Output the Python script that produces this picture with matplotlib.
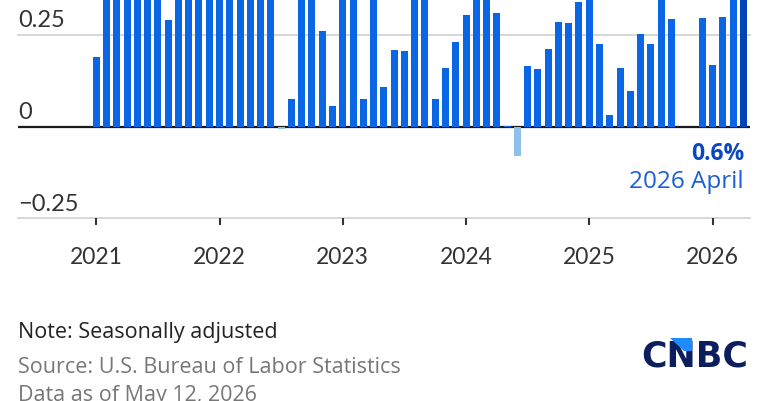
import matplotlib
matplotlib.use("Agg")
import matplotlib.pyplot as plt
from matplotlib.patches import Polygon
import numpy as np
import pandas as pd

plt.rcParams['font.family'] = ['Lato', 'DejaVu Sans']
WIDE = ['Open Sans', 'DejaVu Sans']

# ---- data (monthly % change, CPI, seasonally adjusted) ----
months = pd.date_range('2021-01-01', '2026-04-01', freq='MS')
values = [
    0.19, 0.40, 0.60, 0.80, 0.60, 0.90, 0.50, 0.29, 0.40, 0.90, 0.70, 0.60,      # 2021
    0.60, 0.80, 1.20, 0.40, 1.00, 1.30, -0.006, 0.076, 0.40, 0.40, 0.26, 0.055,  # 2022
    0.50, 0.40, 0.076, 0.40, 0.109, 0.209, 0.205, 0.44, 0.40, 0.076, 0.16, 0.23, # 2023
    0.305, 0.40, 0.40, 0.31, 0.003, -0.08, 0.166, 0.156, 0.212, 0.284, 0.282, 0.339,  # 2024
    0.50, 0.224, 0.031, 0.159, 0.096, 0.252, 0.226, 0.345, 0.294, None, None, 0.295,  # 2025
    0.169, 0.298, 0.40, 0.60,                                                    # 2026
]
year_labels = ['2021', '2022', '2023', '2024', '2025', '2026']
ytick_values = [-0.25, 0, 0.25]
ytick_labels = ['\u22120.25', '0', '0.25']
latest_value_label = '0.6%'
latest_date_label = '2026 April'
note_text = 'Note: Seasonally adjusted'
source_text = 'Source: U.S. Bureau of Labor Statistics'
date_text = 'Data as of May 12, 2026'

# ---- styling ----
BLUE = '#0a66e4'
NEG = '#8fc0ea'
LAST = '#0045b8'

W, H = 768, 402
fig = plt.figure(figsize=(W / 100, H / 100), dpi=100)
fig.patch.set_facecolor('white')
ax_bottom_px = 219.3
ax = fig.add_axes([18 / W, (H - ax_bottom_px) / H, 732 / W, ax_bottom_px / H])
ax.set_facecolor('white')

xs, hs, cs = [], [], []
for i, v in enumerate(values):
    if v is None:
        continue
    xs.append(i)
    hs.append(v)
    if i == len(values) - 1:
        cs.append(LAST)
    elif v < 0:
        cs.append(NEG)
    else:
        cs.append(BLUE)

ax.set_xlim(-7.62, 63.65)
ax.set_ylim(-0.25, 0.348)

# gridlines
for yv in ytick_values:
    if yv == 0:
        continue
    ax.axhline(yv, color='#d4d4d4', lw=1.3, zorder=0, clip_on=False)

ax.bar(xs, hs, width=0.68, color=cs, zorder=4, linewidth=0)
ax.axhline(0, color='#1a1a1a', lw=1.6, zorder=3)

for s in ax.spines.values():
    s.set_visible(False)

# y labels above gridlines
ax.set_yticks([])
for yv, lab in zip(ytick_values, ytick_labels):
    ax.annotate(lab, xy=(0, yv), xycoords=('axes fraction', 'data'),
                xytext=(0, 6.2), textcoords='offset points',
                ha='left', va='baseline', fontsize=17, color='#333333')

# x ticks at January of each year
year_pos = [i for i, m in enumerate(months) if m.month == 1]
ax.set_xticks(year_pos)
ax.set_xticklabels(year_labels, fontsize=16.5, color='#333333')
ax.tick_params(axis='x', length=5, width=1.5, color='#333333', pad=27.2)
for lbl in ax.get_xticklabels():
    lbl.set_va('baseline')

# latest value annotation
last_i = len(values) - 1
ax.annotate(latest_value_label, xy=(last_i, 0), xycoords='data',
            xytext=(0.5, -23.3), textcoords='offset points', family=WIDE,
            ha='right', va='baseline', fontsize=16.5, fontweight='bold', color='#0a47c0')
ax.annotate(latest_date_label, xy=(last_i, 0), xycoords='data',
            xytext=(0.5, -43.2), textcoords='offset points', family=WIDE,
            ha='right', va='baseline', fontsize=17.5, color='#1a5fd6')

# footnotes
fig.text(18 / W, 1 - 338 / H, note_text, fontsize=15.5, color='#222222', va='baseline',
         ha='left', family=WIDE)
fig.text(18 / W, 1 - 373 / H, source_text, fontsize=15.5, color='#777777', va='baseline',
         ha='left', family=WIDE)
fig.text(18 / W, 1 - 401.5 / H, date_text, fontsize=15.5, color='#777777', va='baseline',
         ha='left', family=WIDE)

# logo
fig.text(748 / W, 1 - 367 / H, 'CNBC', fontsize=25, fontweight='bold',
         family=['DejaVu Sans'], color='#0b1f5e', ha='right', va='baseline')
tri = [(670, 339), (692, 339), (692, 352), (684, 352)]
fig.patches.append(Polygon([(x / W, 1 - y / H) for x, y in tri], closed=True,
                           transform=fig.transFigure, facecolor='#1e8cff',
                           edgecolor='none', zorder=5))

fig.savefig('out.png', dpi=100, facecolor='white')
